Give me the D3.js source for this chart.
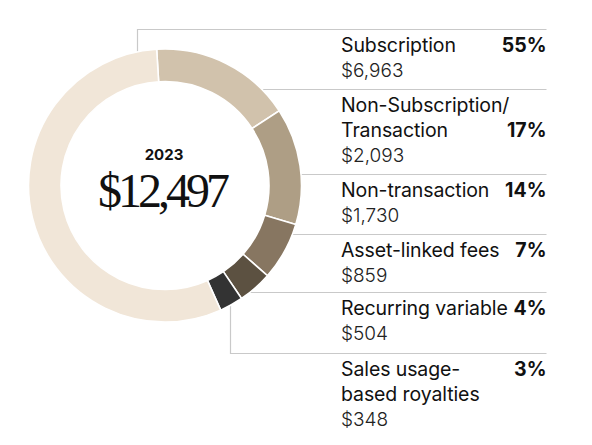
<!DOCTYPE html>
<html><head><meta charset="utf-8">
<script src="https://cdn.jsdelivr.net/npm/d3@7"></script>
<style>
html,body{margin:0;padding:0;background:#fff;}
svg{display:block;}
</style></head>
<body>
<svg id="chart" width="592" height="445"></svg>
<script>
// ---- data ----
const categories = ["Non-Subscription/Transaction","Non-transaction","Asset-linked fees","Recurring variable","Sales usage-based royalties","Subscription"];
const values = [2093, 1730, 859, 504, 348, 6963];
const percentLabels = ["17%","14%","7%","4%","3%","55%"];
const valueLabels = ["$2,093","$1,730","$859","$504","$348","$6,963"];
const colors = ["#D1C2AC","#AE9E85","#877661","#5C5141","#333333","#F1E6D8"];
const yearLabel = "2023";
const totalLabel = "$12,497";
// legend order (top to bottom) and wrapped label lines
const legendOrder = ["Subscription","Non-Subscription/Transaction","Non-transaction","Asset-linked fees","Recurring variable","Sales usage-based royalties"];
const legendLines = [["Subscription"],["Non-Subscription/","Transaction"],["Non-transaction"],["Asset-linked fees"],["Recurring variable"],["Sales usage-","based royalties"]];

// ---- layout ----
const svg = d3.select("#chart");
const cx = 165, cy = 185.5, rOuter = 136.5, rInner = 104;
const sansFont = "Inter, 'Liberation Sans', sans-serif";
const start = -3.5 * Math.PI / 180;

const pie = d3.pie().sort(null).value(d => d)
  .startAngle(start).endAngle(2 * Math.PI + start);
const arc = d3.arc().innerRadius(rInner).outerRadius(rOuter);
const arcs = pie(values);

// legend geometry
const lineX2 = 546.5, textX = 341;
const sepY = [29.5, 89.5, 174.5, 234.5, 292.5, 353.5];
const lineH = 24.5;

// connectors (drawn first, under donut)
const conn = svg.append("g").attr("stroke", "#c9c9c9").attr("stroke-width", 1.2).attr("fill", "none");
legendOrder.forEach((name, i) => {
  const y = sepY[i];
  if (name === "Subscription") {
    const vx = 137.5;
    const yEdge = cy - Math.sqrt(rOuter * rOuter - (vx - cx) * (vx - cx));
    conn.append("path").attr("d", `M${vx},${yEdge}V${y}H${lineX2}`);
  } else if (name === "Sales usage-based royalties") {
    const vx = 230.5;
    const yEdge = cy + Math.sqrt(rOuter * rOuter - (vx - cx) * (vx - cx));
    conn.append("path").attr("d", `M${vx},${yEdge}V${y}H${lineX2}`);
  } else {
    const dy = y - cy;
    const xEdge = cx + Math.sqrt(Math.max(0, rOuter * rOuter - dy * dy));
    conn.append("path").attr("d", `M${xEdge},${y}H${lineX2}`);
  }
});

// donut
const g = svg.append("g").attr("transform", `translate(${cx},${cy})`);
g.selectAll("path.slice").data(arcs).join("path")
  .attr("class", "slice")
  .attr("d", arc)
  .attr("fill", (d, i) => colors[i])
  .attr("stroke", "#fff").attr("stroke-width", 1.6);

// center text
g.append("text").attr("x", -1).attr("y", 159.5 - cy).attr("text-anchor", "middle")
  .attr("font-family", sansFont).attr("font-weight", 700).attr("font-size", 15)
  .attr("fill", "#111").text(yearLabel);
g.append("text").attr("x", -3).attr("y", 206.5 - cy).attr("text-anchor", "middle")
  .attr("font-family", "'Liberation Serif', 'DejaVu Serif', serif").attr("font-size", 48)
  .attr("letter-spacing", -4).attr("fill", "#111").text(totalLabel);

// legend text
const lg = svg.append("g").attr("font-family", sansFont).attr("fill", "#111");
legendOrder.forEach((name, i) => {
  const idx = categories.indexOf(name);
  const lines = legendLines[i];
  const y0 = sepY[i] + 22.5;
  lines.forEach((ln, j) => {
    lg.append("text").attr("x", textX).attr("y", y0 + j * lineH)
      .attr("font-size", 19.5).attr("font-weight", 400).attr("letter-spacing", -0.1).text(ln);
  });
  const pctLine = (name === "Sales usage-based royalties") ? 0 : lines.length - 1;
  lg.append("text").attr("x", lineX2).attr("y", y0 + pctLine * lineH)
    .attr("text-anchor", "end").attr("font-size", 19.5).attr("font-weight", 700)
    .text(percentLabels[idx]);
  lg.append("text").attr("x", textX).attr("y", y0 + (lines.length - 1) * lineH + 25)
    .attr("font-size", 19).attr("font-weight", 300).attr("fill", "#222")
    .text(valueLabels[idx]);
});
</script>
</body></html>
